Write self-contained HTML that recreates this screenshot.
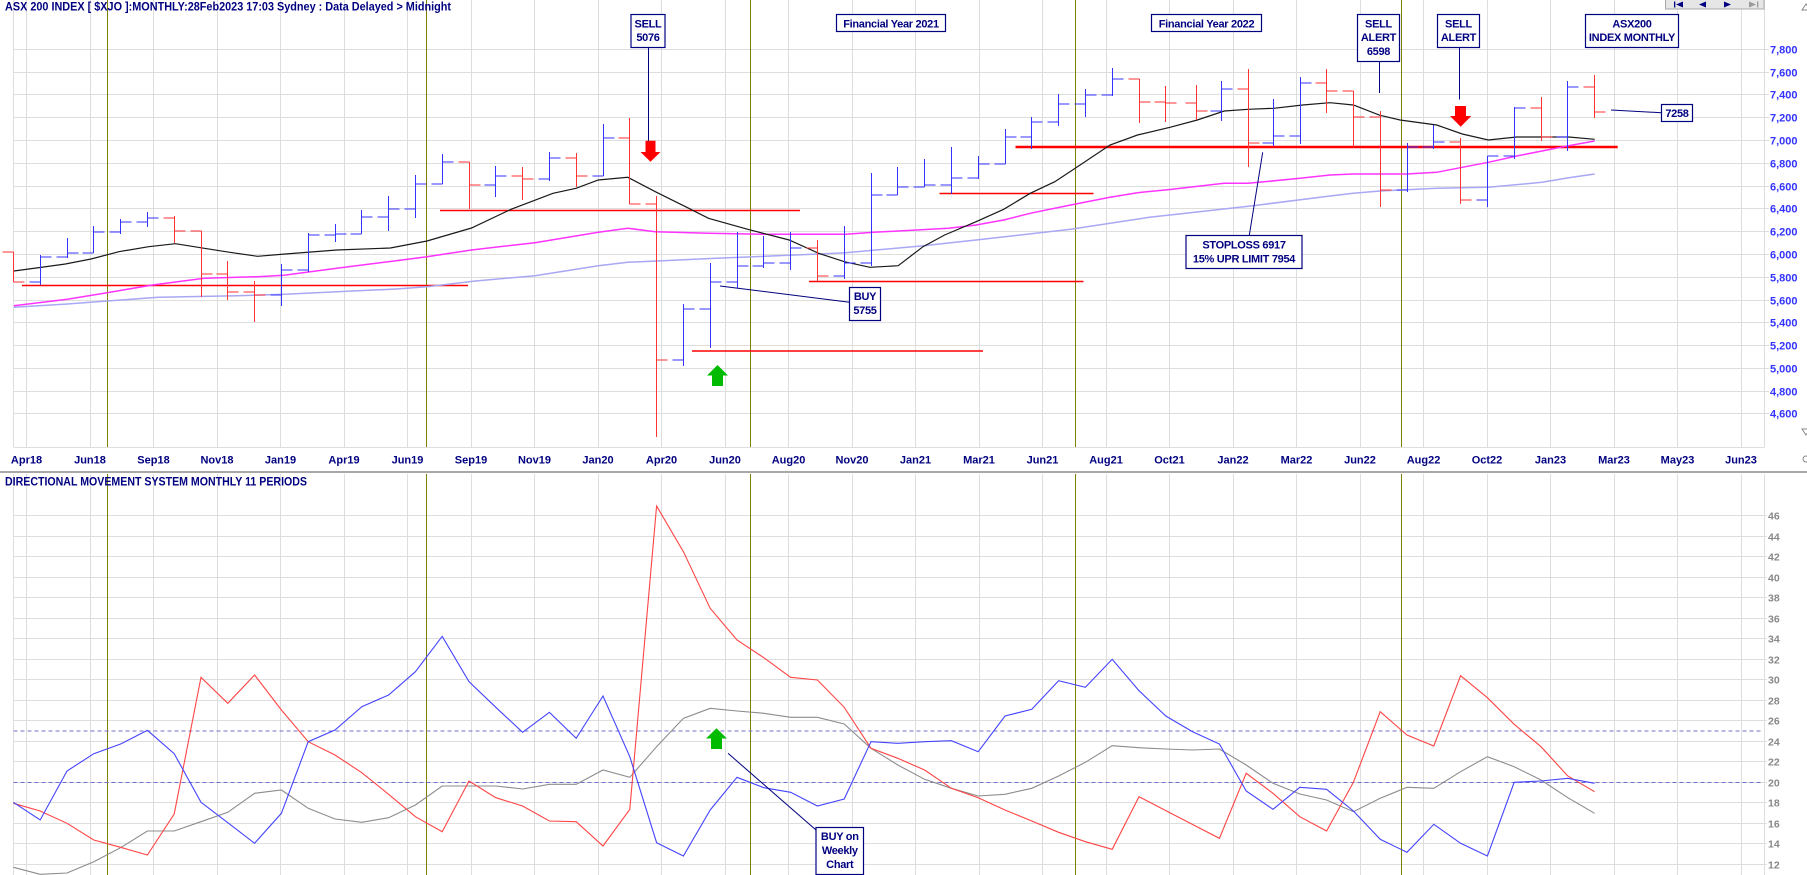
<!DOCTYPE html>
<html><head><meta charset="utf-8"><style>
html,body{margin:0;padding:0;background:#fff;overflow:hidden}
svg{display:block}
text{font-family:"Liberation Sans",Arial,sans-serif;font-weight:bold}
.ax{font-size:11px;fill:#000080}
.yl{font-size:11px;fill:#3333ff}
.yl2{font-size:10.5px;fill:#888}
.an{font-size:11px;fill:#000080;letter-spacing:-0.3px}
</style></head><body>
<svg width="1807" height="875" viewBox="0 0 1807 875" xmlns="http://www.w3.org/2000/svg">
<rect width="1807" height="875" fill="#fff"/>
<!-- upper grid -->
<path fill="none" stroke="#dedede" stroke-width="1" shape-rendering="crispEdges" d="M13.5 49.5H1769M13.5 72.5H1769M13.5 94.5H1769M13.5 117.5H1769M13.5 140.5H1769M13.5 163.5H1769M13.5 186.5H1769M13.5 208.5H1769M13.5 231.5H1769M13.5 254.5H1769M13.5 277.5H1769M13.5 300.5H1769M13.5 322.5H1769M13.5 345.5H1769M13.5 368.5H1769M13.5 391.5H1769M13.5 413.5H1769M13.5 447.5H1764.5M13.5 0V447M1764.5 0V447
M26.5 0V447M90.5 0V447M153.5 0V447M217.5 0V447M280.5 0V447M344.5 0V447M407.5 0V447M471.5 0V447M534.5 0V447M598.5 0V447M661.5 0V447M725.5 0V447M788.5 0V447M852.5 0V447M915.5 0V447M979.5 0V447M1042.5 0V447M1106.5 0V447M1169.5 0V447M1233.5 0V447M1296.5 0V447M1360.5 0V447M1423.5 0V447M1487.5 0V447M1550.5 0V447M1614.5 0V447M1677.5 0V447M1741.5 0V447"/>
<!-- lower grid -->
<path fill="none" stroke="#dedede" stroke-width="1" shape-rendering="crispEdges" d="M13.5 515.5H1767M13.5 536.5H1767M13.5 556.5H1767M13.5 577.5H1767M13.5 597.5H1767M13.5 618.5H1767M13.5 638.5H1767M13.5 659.5H1767M13.5 679.5H1767M13.5 700.5H1767M13.5 720.5H1767M13.5 741.5H1767M13.5 761.5H1767M13.5 782.5H1767M13.5 802.5H1767M13.5 823.5H1767M13.5 843.5H1767M13.5 864.5H1767M13.5 474V875M1764.5 474V875
M26.5 474V875M90.5 474V875M153.5 474V875M217.5 474V875M280.5 474V875M344.5 474V875M407.5 474V875M471.5 474V875M534.5 474V875M598.5 474V875M661.5 474V875M725.5 474V875M788.5 474V875M852.5 474V875M915.5 474V875M979.5 474V875M1042.5 474V875M1106.5 474V875M1169.5 474V875M1233.5 474V875M1296.5 474V875M1360.5 474V875M1423.5 474V875M1487.5 474V875M1550.5 474V875M1614.5 474V875M1677.5 474V875M1741.5 474V875"/>
<!-- olive financial-year lines -->
<path fill="none" stroke="#808000" stroke-width="1" shape-rendering="crispEdges" d="M107.5 0V447M426.5 0V447M750.5 0V447M1075.5 0V447M1401.5 0V447M107.5 474V875M426.5 474V875M750.5 474V875M1075.5 474V875M1401.5 474V875"/>
<!-- separator -->
<rect x="0" y="471" width="1807" height="2" fill="#a8a8a8"/>

<!-- red support/resistance lines -->
<g stroke="#ff0000" fill="none">
<path stroke-width="1.5" d="M22 285.5H468M440 210.5H800M939.5 193.5H1093.5M809 281.5H1083.5M692 351H983"/>
<path stroke-width="2.6" d="M1015.5 147H1617.7"/>
</g>

<!-- moving averages -->
<polyline fill="none" stroke="#a8a8f4" stroke-width="1.5" points="13.9,307.3 67.4,304 107,301 158.5,297.3 237.7,295.7 285.3,294.3 336.8,291.7 396.2,289 427,286.7 475.4,281 534.9,275.7 598.3,265.7 627.8,262.3 716.4,258.3 818.7,254 845.5,252.7 921,246 976.1,240 1070.6,229.3 1149.3,217.3 1170,215 1253,205.7 1330,196 1353.3,193.3 1380,191 1436.7,188.3 1488.3,187.3 1542,182.3 1568.7,177.7 1594.7,174"/>
<polyline fill="none" stroke="#ff33ff" stroke-width="1.5" points="13.9,305.7 67.4,299.3 107,292.7 152.5,285 204.4,278.3 257.5,276.7 284,275.3 336.8,268.3 396.2,260.7 427,256.7 471.5,250 534.9,242.7 598.3,232.3 627.8,228.3 655.3,231.7 708.5,233.3 763.6,234.3 818.7,234.3 845.5,234.3 873.8,232.3 948.6,228.3 976.1,225 1003.7,220 1030.2,213.3 1070.6,205 1110,197.3 1137.5,192.7 1170,189.5 1224,183.3 1248,183.3 1300,178.3 1330,175 1353.3,174 1380,174 1406.7,174 1436.7,172.3 1462.3,167.3 1488.3,162.3 1516.7,156 1542,151 1568.7,145.7 1594.7,141"/>
<polyline fill="none" stroke="#1a1a1a" stroke-width="1.2" points="13.9,271 40,267.5 65.4,264 91,259 118.9,251.7 148.6,246.7 175.5,243.7 204.4,248.3 229.8,252.3 257.5,256.3 285.3,254 336.8,250 390.3,248 427,241 471.5,228 511,209.3 553,193.3 576,188.3 598.3,180 627.8,177.3 655.3,191.7 688.8,208.3 708.5,218.3 747.8,229.3 789.2,240 818.7,253.3 844.3,261.7 869.9,267.3 898.2,265.7 923,246.7 944.6,235 976.1,221.7 1003.7,209.3 1030.2,193.3 1054.8,181.7 1072.6,170 1110,145 1137.5,135 1170,127.3 1197.3,120 1224.3,111 1248.3,109.3 1273.7,108.3 1302.7,105 1330,102.7 1353.3,105 1380,115.3 1400,120 1436.7,125 1462.3,134 1488.3,140 1516.7,137 1542,137 1568.7,137 1594.7,139.3"/>

<!-- OHLC bars -->
<path fill="none" stroke="#3333ff" stroke-width="1" shape-rendering="crispEdges" d="M40.5 255V285M29.5 282H40.5M40.5 257H51.5M67.5 238V258M56.5 257H67.5M67.5 253H78.5M93.5 226V253M82.5 253H93.5M93.5 232H104.5M120.5 219V234M109.5 232H120.5M120.5 222H131.5M147.5 212V227M136.5 222H147.5M147.5 218H158.5M281.5 264V306M270.5 295H281.5M281.5 270H292.5M308.5 233V272M297.5 270H308.5M308.5 235H319.5M335.5 224V242M324.5 235H335.5M335.5 234H346.5M361.5 210V234M350.5 234H361.5M361.5 217H372.5M388.5 196V231M377.5 217H388.5M388.5 209H399.5M415.5 175V218M404.5 209H415.5M415.5 184H426.5M442.5 154V184M431.5 184H442.5M442.5 162H453.5M495.5 166V197M484.5 185H495.5M495.5 176H506.5M549.5 152V181M538.5 179H549.5M549.5 158H560.5M603.5 124V176M592.5 176H603.5M603.5 138H614.5M683.5 304V366M672.5 360H683.5M683.5 309H694.5M710.5 263V348M699.5 309H710.5M710.5 282H721.5M737.5 232V288M726.5 282H737.5M737.5 266H748.5M763.5 236V268M752.5 266H763.5M763.5 263H774.5M790.5 232V270M779.5 263H790.5M790.5 248H801.5M844.5 226V279M833.5 276H844.5M844.5 263H855.5M871.5 173V266M860.5 263H871.5M871.5 195H882.5M897.5 167V195M886.5 195H897.5M897.5 187H908.5M924.5 159V187M913.5 187H924.5M924.5 185H935.5M951.5 147V194M940.5 185H951.5M951.5 178H962.5M978.5 156V179M967.5 178H978.5M978.5 164H989.5M1005.5 129V164M994.5 164H1005.5M1005.5 137H1016.5M1031.5 117V149M1020.5 137H1031.5M1031.5 122H1042.5M1058.5 94V126M1047.5 122H1058.5M1058.5 104H1069.5M1085.5 89V117M1074.5 104H1085.5M1085.5 95H1096.5M1112.5 68V96M1101.5 95H1112.5M1112.5 79H1123.5M1221.5 81V121M1210.5 111H1221.5M1221.5 89H1232.5M1273.5 99V146M1262.5 143H1273.5M1273.5 136H1284.5M1300.5 77V144M1289.5 136H1300.5M1300.5 83H1311.5M1407.5 143V192M1396.5 190H1407.5M1407.5 147H1418.5M1433.5 125V149M1422.5 147H1433.5M1433.5 142H1444.5M1487.5 156V207M1476.5 200H1487.5M1487.5 156H1498.5M1514.5 107V159M1503.5 156H1514.5M1514.5 108H1525.5M1567.5 81V151M1556.5 137H1567.5M1567.5 87H1578.5"/>
<path fill="none" stroke="#ff3333" stroke-width="1" shape-rendering="crispEdges" d="M13.5 252V282M2.5 252H13.5M13.5 282H24.5M174.5 216V243M163.5 218H174.5M174.5 231H185.5M201.5 231V297M190.5 231H201.5M201.5 274H212.5M227.5 261V300M216.5 274H227.5M227.5 292H238.5M254.5 281V322M243.5 292H254.5M254.5 295H265.5M469.5 162V209M458.5 162H469.5M469.5 185H480.5M522.5 167V200M511.5 176H522.5M522.5 179H533.5M576.5 153V187M565.5 158H576.5M576.5 176H587.5M629.5 118V204M618.5 138H629.5M629.5 204H640.5M656.5 196V437M645.5 204H656.5M656.5 360H667.5M817.5 240V281M806.5 248H817.5M817.5 276H828.5M1139.5 79V123M1128.5 79H1139.5M1139.5 102H1150.5M1165.5 86V122M1154.5 102H1165.5M1165.5 103H1176.5M1196.5 85V120M1185.5 103H1196.5M1196.5 111H1207.5M1248.5 69V167M1237.5 89H1248.5M1248.5 143H1259.5M1326.5 69V113M1315.5 83H1326.5M1326.5 91H1337.5M1353.5 91V147M1342.5 91H1353.5M1353.5 117H1364.5M1380.5 111V207M1369.5 117H1380.5M1380.5 190H1391.5M1460.5 138V204M1449.5 142H1460.5M1460.5 200H1471.5M1541.5 97V141M1530.5 108H1541.5M1541.5 137H1552.5M1594.5 75V118M1583.5 87H1594.5M1594.5 112H1605.5"/>

<!-- lower panel dashed levels -->
<path fill="none" stroke="#7070cc" stroke-width="1" stroke-dasharray="4 3" d="M13.5 731H1762M13.5 782.5H1762"/>
<!-- DMI lines -->
<polyline fill="none" stroke="#8c8c8c" stroke-width="1.1" points="13.4,867.3 40.2,874.3 67,873 93.8,861.7 120.6,847.7 147.4,831 174.2,831 201,821.7 227.8,812.3 254.6,793.3 281.4,790 308.2,808.3 335,819 361.8,822.3 388.6,817.7 415.4,805 442.2,786 469,786 495.8,786 522.6,789 549.4,784.3 576.2,784.3 603,770 629.8,777.3 656.6,746.7 683.4,718.3 710.2,708.3 737,711 763.8,713.3 790.6,717.3 817.4,717.3 844.2,724 871,748.3 897.8,765 924.6,779.3 951.4,788.3 978.2,796 1005,794.3 1031.8,788.3 1058.6,776 1085.4,762.3 1112.2,745.7 1139,747.7 1165.8,749 1192.6,750 1219.4,749 1246.2,765 1273,783.3 1299.8,794 1326.6,800 1353.4,811.7 1380.2,798.3 1407,787.3 1433.8,788.3 1460.6,771.7 1487.4,756.7 1514.2,766.7 1541,780 1567.8,797.7 1594.6,813.3"/>
<polyline fill="none" stroke="#ff4444" stroke-width="1.1" points="13.4,803.3 40.2,811 67,823.3 93.8,840 120.6,847.3 147.4,855 174.2,814 201,677.3 227.8,703.3 254.6,675 281.4,710 308.2,741.7 335,755 361.8,772.7 388.6,794.3 415.4,816.7 442.2,831.7 469,781 495.8,797.7 522.6,806 549.4,821 576.2,821.7 603,846 629.8,809.3 656.6,506 683.4,551.7 710.2,608.3 737,640 763.8,657.7 790.6,677.3 817.4,680 844.2,707.3 871,748.3 897.8,758.3 924.6,770 951.4,788.3 978.2,797.7 1005,810 1031.8,821 1058.6,832.3 1085.4,841.7 1112.2,849.3 1139,796.7 1165.8,810.6 1192.6,824.5 1219.4,838.3 1246.2,773.3 1273,793.3 1299.8,816.7 1326.6,831 1353.4,782.3 1380.2,711.7 1407,735 1433.8,746 1460.6,675.7 1487.4,697.7 1514.2,724.3 1541,746.7 1567.8,776 1594.6,791.7"/>
<polyline fill="none" stroke="#4444ff" stroke-width="1.1" points="13.4,802.3 40.2,820 67,771 93.8,753.7 120.6,744 147.4,730.3 174.2,753.7 201,802.3 227.8,822.7 254.6,843.3 281.4,813.3 308.2,741.7 335,730 361.8,706.7 388.6,695 415.4,671.7 442.2,636.3 469,681.7 495.8,707.3 522.6,732.3 549.4,712.3 576.2,738.3 603,696 629.8,756.7 656.6,842.7 683.4,856 710.2,810 737,777.3 763.8,787.7 790.6,792.3 817.4,806 844.2,799 871,741.7 897.8,743.3 924.6,741.7 951.4,740.7 978.2,751.7 1005,716 1031.8,709.3 1058.6,680.7 1085.4,687.3 1112.2,659.3 1139,690.7 1165.8,716 1192.6,731.7 1219.4,744 1246.2,791 1273,809.3 1299.8,787.3 1326.6,789.3 1353.4,811 1380.2,839.3 1407,852.3 1433.8,824.3 1460.6,843.3 1487.4,856 1514.2,782.3 1541,781 1567.8,778.3 1594.6,783.3"/>

<!-- connector lines -->
<g stroke="#000080" stroke-width="1" fill="none">
<path d="M648.5 47.5V141M1379.5 61V93M1459.5 47V99.5M1611 110L1661.5 112.7M720 286L849.5 302.3M1249.3 235.3L1262.7 152.3M728 753.3L816 830"/>
</g>
<!-- arrows -->
<g fill="#ff0000">
<polygon points="645.5,140.7 655.5,140.7 655.5,152 660.5,152 650.5,161.7 640.5,152 645.5,152"/>
<polygon points="1455,106 1466,106 1466,116 1471.3,116 1460.7,126.7 1450,116 1455,116"/>
</g>
<g fill="#00bb00">
<polygon points="717.5,365 728,375.5 723,375.5 723,386 712,386 712,375.5 707,375.5"/>
<polygon points="716.5,728.3 727,738.5 722,738.5 722,749 711,749 711,738.5 706,738.5"/>
</g>

<!-- annotation boxes -->
<g fill="#fff" stroke="#000080" stroke-width="1.2">
<rect x="631" y="14.5" width="34" height="33"/>
<rect x="836.5" y="14.5" width="109" height="17"/>
<rect x="1151.5" y="14.5" width="110" height="17"/>
<rect x="1357.5" y="14.5" width="42" height="47"/>
<rect x="1437.5" y="14.5" width="42" height="33"/>
<rect x="1585.5" y="14.5" width="93" height="33"/>
<rect x="1661.5" y="104.5" width="31" height="17"/>
<rect x="849.5" y="287.5" width="31" height="33"/>
<rect x="1186" y="235.5" width="116" height="33"/>
<rect x="816" y="827.5" width="47.5" height="47"/>
</g>
<g class="an" text-anchor="middle">
<text x="648" y="27.3">SELL</text><text x="648" y="40.8">5076</text>
<text x="891" y="27.3">Financial Year 2021</text>
<text x="1206.5" y="27.3">Financial Year 2022</text>
<text x="1378.5" y="27.3">SELL</text><text x="1378.5" y="41">ALERT</text><text x="1378.5" y="54.8">6598</text>
<text x="1458.5" y="27.3">SELL</text><text x="1458.5" y="41">ALERT</text>
<text x="1632" y="27.3">ASX200</text><text x="1632" y="41">INDEX MONTHLY</text>
<text x="1677" y="117">7258</text>
<text x="865" y="300">BUY</text><text x="865" y="314">5755</text>
<text x="1244" y="248.3">STOPLOSS 6917</text><text x="1244" y="262.3">15% UPR LIMIT 7954</text>
<text x="839.8" y="840">BUY on</text><text x="839.8" y="854">Weekly</text><text x="839.8" y="868">Chart</text>
</g>

<!-- titles -->
<text x="5" y="10.5" class="ax" style="font-size:12px" textLength="446" lengthAdjust="spacingAndGlyphs">ASX 200 INDEX [ $XJO ]:MONTHLY:28Feb2023 17:03 Sydney : Data Delayed &gt; Midnight</text>
<text x="5" y="485.5" class="ax" style="font-size:12px" textLength="302" lengthAdjust="spacingAndGlyphs">DIRECTIONAL MOVEMENT SYSTEM MONTHLY 11 PERIODS</text>

<!-- x axis labels -->
<g class="ax" text-anchor="middle">
<text x="26.5" y="463.5">Apr18</text><text x="90" y="463.5">Jun18</text><text x="153.5" y="463.5">Sep18</text><text x="217" y="463.5">Nov18</text><text x="280.5" y="463.5">Jan19</text><text x="344" y="463.5">Apr19</text><text x="407.5" y="463.5">Jun19</text><text x="471" y="463.5">Sep19</text><text x="534.5" y="463.5">Nov19</text><text x="598" y="463.5">Jan20</text><text x="661.5" y="463.5">Apr20</text><text x="725" y="463.5">Jun20</text><text x="788.5" y="463.5">Aug20</text><text x="852" y="463.5">Nov20</text><text x="915.5" y="463.5">Jan21</text><text x="979" y="463.5">Mar21</text><text x="1042.5" y="463.5">Jun21</text><text x="1106" y="463.5">Aug21</text><text x="1169.5" y="463.5">Oct21</text><text x="1233" y="463.5">Jan22</text><text x="1296.5" y="463.5">Mar22</text><text x="1360" y="463.5">Jun22</text><text x="1423.5" y="463.5">Aug22</text><text x="1487" y="463.5">Oct22</text><text x="1550.5" y="463.5">Jan23</text><text x="1614" y="463.5">Mar23</text><text x="1677.5" y="463.5">May23</text><text x="1741" y="463.5">Jun23</text>
</g>

<!-- upper y labels -->
<g class="yl">
<text x="1770" y="53.5">7,800</text><text x="1770" y="76.5">7,600</text><text x="1770" y="98.5">7,400</text><text x="1770" y="121.5">7,200</text><text x="1770" y="144.5">7,000</text><text x="1770" y="167.5">6,800</text><text x="1770" y="190.5">6,600</text><text x="1770" y="212.5">6,400</text><text x="1770" y="235.5">6,200</text><text x="1770" y="258.5">6,000</text><text x="1770" y="281.5">5,800</text><text x="1770" y="304.5">5,600</text><text x="1770" y="326.5">5,400</text><text x="1770" y="349.5">5,200</text><text x="1770" y="372.5">5,000</text><text x="1770" y="395.5">4,800</text><text x="1770" y="417.5">4,600</text>
</g>
<!-- lower y labels -->
<g class="yl2">
<text x="1768" y="519.5">46</text><text x="1768" y="540.5">44</text><text x="1768" y="560.5">42</text><text x="1768" y="581.5">40</text><text x="1768" y="601.5">38</text><text x="1768" y="622.5">36</text><text x="1768" y="642.5">34</text><text x="1768" y="663.5">32</text><text x="1768" y="683.5">30</text><text x="1768" y="704.5">28</text><text x="1768" y="724.5">26</text><text x="1768" y="745.5">24</text><text x="1768" y="765.5">22</text><text x="1768" y="786.5">20</text><text x="1768" y="806.5">18</text><text x="1768" y="827.5">16</text><text x="1768" y="847.5">14</text><text x="1768" y="868.5">12</text>
</g>

<!-- nav buttons -->
<rect x="1665.5" y="-1" width="98.5" height="10" fill="#e6e6e6" stroke="#a8a8a8" stroke-width="1"/>
<g fill="#000080">
<rect x="1674" y="1.5" width="1.3" height="6"/>
<polygon points="1676,4.5 1683,1.5 1683,7.5"/>
<polygon points="1699,4.5 1706,1.5 1706,7.5"/>
<polygon points="1731,4.5 1724,1.5 1724,7.5"/>
</g>
<g fill="#9a9a9a">
<polygon points="1756,4.5 1749,1.5 1749,7.5"/>
<rect x="1757" y="1.5" width="1.3" height="6"/>
</g>
<!-- right-edge glyphs -->
<g fill="none" stroke="#888" stroke-width="1">
<polygon points="1802,10 1806,4 1810,10"/>
<polygon points="1802,429 1810,429 1806,435"/>
<circle cx="1806" cy="459" r="3"/>
</g>
</svg>
</body></html>
